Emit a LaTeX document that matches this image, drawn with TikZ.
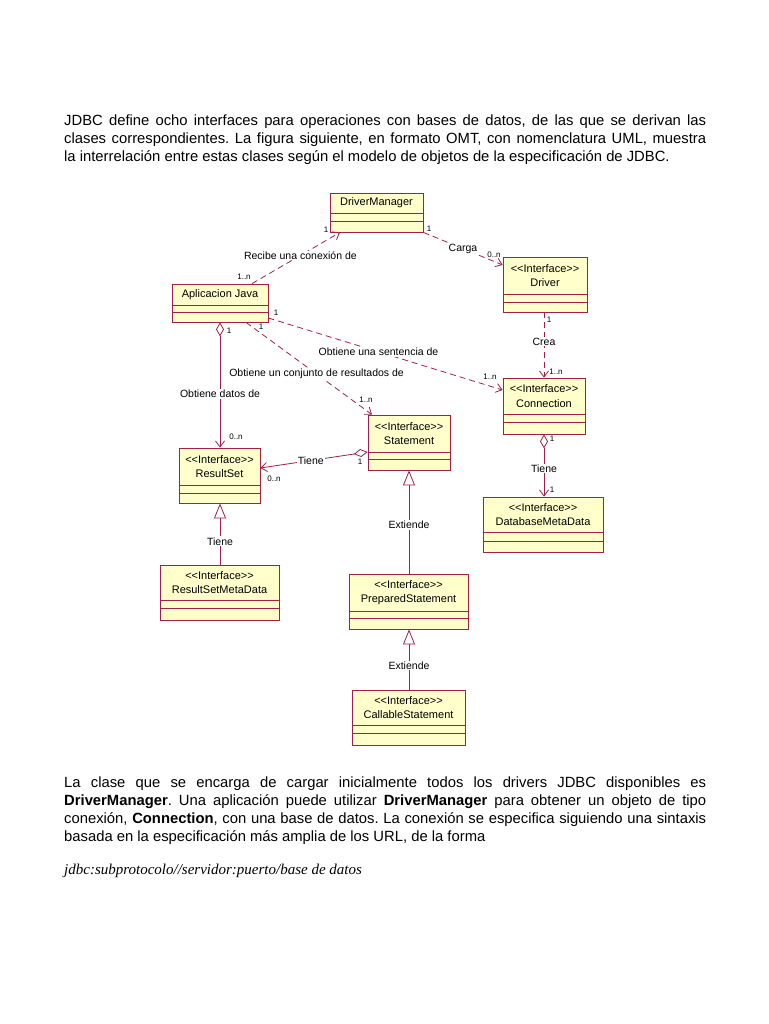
\documentclass[tikz,border=0pt]{standalone}
\usepackage{fontspec}
\setmainfont{Liberation Sans}
\newfontfamily\urlserif{Liberation Serif}
\usetikzlibrary{arrows.meta}
\definecolor{umlred}{HTML}{A0204A}
\definecolor{umlfill}{HTML}{FFFFCC}
\newcommand\intf{{<}{<}Interface{>}{>}}
\newcommand\umlbox[8]{%
  \node[cls, minimum width={#4-#2}, minimum height={#5-#3}] (#1) at ({(#2+#4)/2},{(#3+#5)/2}) {};
  \draw[clsline] (#1.west |- 0,#6) -- (#1.east |- 0,#6);
  \draw[clsline] (#1.west |- 0,#7) -- (#1.east |- 0,#7);
  \node[clstext] (#1-t) at ({(#2+#4)/2},{(#3+#6)/2}) {#8};
}
\frenchspacing
\begin{document}
\begin{tikzpicture}[x=1pt,y=-1pt,
  cls/.style={draw=umlred, fill=umlfill, line width=0.8pt, inner sep=0pt, rectangle},
  clsline/.style={draw=umlred, line width=0.8pt},
  clstext/.style={font=\fontsize{11}{14.5}\selectfont, align=center, inner sep=0pt},
  lbl/.style={font=\fontsize{10.5}{12}\selectfont, fill=white, inner sep=1pt},
  mult/.style={font=\fontsize{8}{9}\selectfont, inner sep=0pt},
  conn/.style={draw=umlred, line width=0.8pt},
  dep/.style={conn, dash pattern=on 6pt off 4pt, -{Straight Barb[length=6pt,width=9pt]}},
  agg/.style={conn, {Diamond[open,length=14pt,width=8pt]}-{Straight Barb[length=6pt,width=9pt]}},
  gen/.style={conn, -{Triangle[open,length=15pt,width=12pt]}},
  para/.style={anchor=north west, inner sep=0pt, text width=642pt, align=justify,
    font=\fontsize{14.8}{18}\selectfont}
]
\useasboundingbox (0,0) rectangle (768,1024);

% paragraphs
\node[para] (p1) at (64,115) {JDBC define ocho interfaces para operaciones con bases de datos, de las que se derivan las\linebreak
clases correspondientes. La figura siguiente, en formato OMT, con nomenclatura UML, muestra\linebreak
la interrelación entre estas clases según el modelo de objetos de la especificación de JDBC.};

\node[para] (p2) at (64,777) {La clase que se encarga de cargar inicialmente todos los drivers JDBC disponibles es\linebreak
\textbf{DriverManager}. Una aplicación puede utilizar \textbf{DriverManager} para obtener un objeto de tipo\linebreak
conexión, \textbf{Connection}, con una base de datos. La conexión se especifica siguiendo una sintaxis\linebreak
basada en la especificación más amplia de los URL, de la forma};

\node[anchor=base west, inner sep=0pt, font=\urlserif\itshape\fontsize{15}{18}\selectfont] (url) at (64,874) {jdbc:subprotocolo//servidor:puerto/base de datos};

% classes
\umlbox{dm}{330}{193}{423}{232}{213}{221}{DriverManager}
\umlbox{drv}{503}{257}{587}{312}{294}{302}{\intf\\Driver}
\umlbox{aj}{172}{284}{268}{322}{305}{312}{Aplicacion Java}
\umlbox{con}{503}{378}{585}{434}{414}{422}{\intf\\Connection}
\umlbox{st}{368}{415}{450}{470}{452}{459}{\intf\\Statement}
\umlbox{rs}{179}{448}{260}{503}{485}{493}{\intf\\ResultSet}
\umlbox{dbmd}{483}{497}{603}{552}{532}{541}{\intf\\DatabaseMetaData}
\umlbox{rsmd}{160}{565}{279}{620}{600}{608}{\intf\\ResultSetMetaData}
\umlbox{ps}{349}{574}{468}{629}{611}{618}{\intf\\PreparedStatement}
\umlbox{cs}{352}{690}{465}{745}{725}{733}{\intf\\CallableStatement}

% connectors
\draw[dep] (aj.north -| 252,0) -- node[lbl, pos=0.55] (l1) {Recibe una conexión de} (dm.south -| 340,0);
\node[mult] (m1a) at (244,277) {1..n};
\node[mult] (m1b) at (326,230) {1};

\draw[dep] (dm.south east) -- node[lbl, pos=0.5] (l2) {Carga} (drv.west |- 0,265);
\node[mult] (m2a) at (429,229) {1};
\node[mult] (m2b) at (494,255) {0..n};

\draw[dep] (drv.south -| 544,0) -- node[lbl, pos=0.45] (l3) {Crea} (con.north -| 544,0);
\node[mult] (m3a) at (549,320) {1};
\node[mult] (m3b) at (556,372) {1..n};

\draw[dep] (aj.east |- 0,318) -- node[lbl, pos=0.47] (l4) {Obtiene una sentencia de} (con.west |- 0,390);
\node[mult] (m4a) at (276,313) {1};
\node[mult] (m4b) at (490,377) {1..n};

\draw[dep] (aj.south -| 246,0) -- node[lbl, pos=0.56] (l5) {Obtiene un conjunto de resultados de} (st.north -| 372,0);
\node[mult] (m5a) at (261,327) {1};
\node[mult] (m5b) at (366,400) {1..n};

\draw[agg] (aj.south -| 220,0) -- node[lbl, pos=0.57] (l6) {Obtiene datos de} (rs.north -| 220,0);
\node[mult] (m6a) at (229,331) {1};
\node[mult] (m6b) at (236,437) {0..n};

\draw[agg] (st.west |- 0,452) -- node[lbl, pos=0.53] (l7) {Tiene} (rs.east |- 0,468);
\node[mult] (m7a) at (360,462) {1};
\node[mult] (m7b) at (274,479) {0..n};

\draw[agg] (con.south -| 544,0) -- node[lbl, pos=0.55] (l8) {Tiene} (dbmd.north -| 544,0);
\node[mult] (m8a) at (552,439) {1};
\node[mult] (m8b) at (552,490) {1};

\draw[gen] (rsmd.north -| 220,0) -- node[lbl, pos=0.38] (l9) {Tiene} (rs.south -| 220,0);
\draw[gen] (ps.north -| 409,0) -- node[lbl, pos=0.47] (l10) {Extiende} (st.south -| 409,0);
\draw[gen] (cs.north -| 409,0) -- node[lbl, pos=0.4] (l11) {Extiende} (ps.south -| 409,0);
\end{tikzpicture}
\end{document}
